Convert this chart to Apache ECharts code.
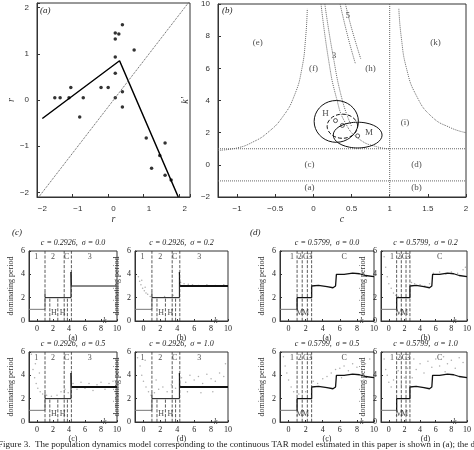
<!DOCTYPE html>
<html><head><meta charset="utf-8">
<script src="https://cdn.jsdelivr.net/npm/echarts@6/dist/echarts.min.js"></script>
<style>html,body{margin:0;padding:0;background:#fff}#c{width:474px;height:450px}</style>
</head><body><div id="c"></div>
<script>
// ---- panel (a) data ----
const aPoints = [[-1.65,0.05],[-1.5,0.05],[-1.25,0.05],[-1.2,0.27],[-0.85,0.05],[-0.95,-0.37],[-0.35,0.27],[-0.15,0.27],[0.05,1.45],[0.05,1.32],[0.15,1.43],[0.25,1.63],[0.05,0.93],[0.05,0.58],[0.05,0.05],[0.25,0.18],[0.25,-0.15],[0.58,1.08],[0.92,-0.82],[1.07,-1.48],[1.3,-1.2],[1.45,-0.93],[1.45,-1.63],[1.62,-1.73]];
const aModel = [[-2,-0.4],[0.17,0.85],[1.82,-2.1]];
const aDiag = [[-2.15,-2.15],[2.15,2.15]];
const aTicks = [-2,-1,0,1,2];
// ---- panel (b) data ----
const bLeftCurve = [[-1.25,0.9],[-1.0,1.05],[-0.8,1.4],[-0.6,2.0],[-0.4,3.0],[-0.25,4.3],[-0.15,6.0],[-0.1,8.0],[-0.08,9.7]];
const bRightCurve = [[1.12,9.7],[1.15,8.0],[1.22,6.0],[1.35,4.3],[1.55,3.0],[1.8,2.3],[2.0,2.0]];
const bMid1 = [[0.1,10],[0.2,6.5],[0.3,4.2],[0.42,2.6],[0.6,1.6],[0.85,1.1],[1.0,1.0]];
const bMid2 = [[0.15,10],[0.25,7],[0.38,4.0],[0.5,2.4]];
const bMid3 = [[0.35,10],[0.45,8],[0.55,6.3]];
const bMid4 = [[0.42,10],[0.5,8.5],[0.62,6.6]];
const bEllipses = [{cx:0.3,cy:2.7,rx:0.29,ry:1.3,type:'solid'},{cx:0.58,cy:1.85,rx:0.32,ry:0.8,type:'solid'},{cx:0.38,cy:2.4,rx:0.2,ry:0.75,type:'dashed'}];
const bCircles = [[0.29,2.75],[0.38,2.45],[0.58,1.8]];
const bLabels = [['(e)',-0.73,7.6],['(k)',1.6,7.6],['(f)',0.0,6.0],['(h)',0.75,6.0],['3',0.27,6.8],['5',0.45,9.3],['(i)',1.2,2.6],['(c)',-0.05,0.0],['(d)',1.35,0.0],['(a)',-0.05,-1.4],['(b)',1.35,-1.4],['H',0.16,3.2],['M',0.73,2.0]];
// ---- bottom panels data ----
const kTicks = [0,2,4,6,8,10];
const cTitles = ['c = 0.2926,  σ = 0.0','c = 0.2926,  σ = 0.2','c = 0.2926,  σ = 0.5','c = 0.2926,  σ = 1.0'];
const dTitles = ['c = 0.5799,  σ = 0.0','c = 0.5799,  σ = 0.2','c = 0.5799,  σ = 0.5','c = 0.5799,  σ = 1.0'];
const subLabels = ['(a)','(b)','(c)','(d)'];
const cStepGray = [[-1,1],[1,1],[1,2.5]];
const cStepBlack = [[1,2],[4.25,2],[4.25,4.2],[4.3,3],[10,3]];
const cStepLate = [[4.3,3],[10,3]];
const dStepGray = [[-1,1],[1,1]];
const dStepBlack = [[1,1],[1,2],[2.7,2],[2.7,3],[3.5,3.05],[4.5,2.95],[5.2,2.85],[5.5,3.0],[5.6,4],[6.5,4.0],[7.5,4.1],[8.3,4.05],[9,3.9],[10,3.8]];
const cVlinesFull = [1,3.4,4.3];
const cVlinesShort = [1.6,2.6,3.8];
const dVlinesFull = [1,1.6,2.2,2.7];
const cTopLabels = [['1',-0.1],['2',2.0],['C',3.7],['3',6.6]];
const dTopLabels = [['1',0.4],['2',1.3],['C',2.0],['3',2.5],['C',6.5]];
const cBotLabels = [['H',2.1],['H',3.2]];
const dBotLabels = [['M',1.3],['M',2.0]];
const cNoise = [
 [],
 [[-0.6,3.8],[-0.45,3.4],[-0.3,3.1],[-0.1,2.8],[0.1,2.6],[0.3,2.4],[0.5,2.3],[0.8,2.1],[-0.2,3.5],[0.2,2.9],[4.4,3.3],[4.8,3.2],[5.3,3.15],[5.8,3.1],[6.5,3.05],[7.5,3.1],[8.5,3.05],[9.5,3.1],[2.5,2.1],[3.5,2.2]],
 [[-0.7,5.8],[-0.5,4.5],[-0.3,3.8],[-0.1,3.3],[0.1,2.9],[0.4,2.6],[0.7,2.4],[1.2,2.3],[1.8,2.2],[2.5,2.3],[3.0,2.6],[3.5,2.8],[3.9,2.5],[4.5,3.3],[5.0,2.8],[5.5,3.4],[6.0,2.9],[6.5,3.3],[7.0,2.7],[7.5,3.2],[8.0,3.4],[8.5,2.8],[9.0,3.3],[9.5,3.5],[0.3,4.2],[-0.2,5.0]],
 [[-0.7,5.5],[-0.4,4.8],[-0.2,4.0],[0.0,3.5],[0.3,3.0],[0.6,2.6],[0.9,2.3],[1.3,2.5],[1.8,2.8],[2.3,3.0],[2.8,2.6],[3.3,3.2],[3.8,2.9],[4.5,3.8],[5.0,3.4],[5.5,4.0],[6.0,3.6],[6.5,3.9],[7.0,3.3],[7.5,4.1],[8.0,3.7],[8.5,3.5],[9.0,4.2],[9.5,3.9],[5.2,2.6],[6.8,2.5],[8.2,2.6],[0.2,5.3],[1.5,3.6],[9.7,5.0]]
];
const dNoise = [
 [],
 [[-0.6,5.5],[-0.4,4.6],[-0.2,3.8],[0.0,3.2],[0.3,2.8],[0.6,2.4],[0.9,2.2],[1.2,2.1],[2.9,3.3],[3.3,3.2],[4.0,3.1],[4.6,3.0],[5.2,3.2],[5.7,4.1],[6.5,4.2],[7.3,4.0],[8.0,4.2],[8.8,4.1],[9.5,4.4],[9.8,4.6]],
 [[-0.6,5.6],[-0.4,4.8],[-0.2,4.2],[0.0,3.6],[0.3,3.0],[0.6,2.6],[1.2,2.4],[2.0,2.6],[2.9,3.5],[3.4,3.3],[4.0,3.7],[4.5,3.9],[5.0,4.2],[5.5,4.5],[6.0,4.6],[6.5,4.8],[7.0,4.4],[7.5,5.0],[8.0,4.7],[8.5,5.2],[9.0,5.0],[9.5,5.4],[6.2,3.8],[8.8,3.6]],
 [[-0.6,5.4],[-0.4,4.5],[-0.2,4.0],[0.0,3.4],[0.3,3.0],[0.6,3.6],[1.2,4.4],[1.6,3.2],[2.0,3.8],[2.4,4.6],[3.0,3.8],[3.5,4.5],[4.0,5.0],[4.5,4.2],[5.0,5.2],[5.5,4.7],[6.0,5.4],[6.5,4.8],[7.0,5.6],[7.5,5.0],[8.0,5.3],[8.5,4.6],[9.0,5.5],[9.5,5.1],[3.2,5.4],[1.0,2.6],[7.2,4.3]]
];
const caption = 'Figure 3.  The population dynamics model corresponding to the continuous TAR model estimated in this paper is shown in (a); the dots';

const serif = 'Liberation Serif';
const chart = echarts.init(document.getElementById('c'));
const grids = [], xAxes = [], yAxes = [], series = [], texts = [];
const box = {show:true,borderColor:'#333',borderWidth:1,backgroundColor:'transparent'};
function txt(x,y,s,opt){texts.push(Object.assign({type:'text',x:x,y:y,style:Object.assign({text:s,font:'10px '+serif,fill:'#222'},opt||{})}));}

// panel (a)
grids.push(Object.assign({left:37,top:3,width:153,height:194},box));
xAxes.push({gridIndex:0,min:-2.15,max:2.15,interval:1,type:'value',splitLine:{show:false},axisLine:{onZero:false,lineStyle:{color:'#333'}},axisTick:{inside:true,length:3},axisLabel:{fontSize:8,color:'#333',customValues:aTicks,formatter:v=>String(v).replace('-','−')},name:'r',nameLocation:'middle',nameGap:15,nameTextStyle:{fontFamily:serif,fontStyle:'italic',fontSize:10}});
yAxes.push({gridIndex:0,min:-2.1,max:2.1,type:'value',splitLine:{show:false},axisLine:{onZero:false,lineStyle:{color:'#333'}},axisTick:{inside:true,length:3},axisLabel:{fontSize:8,color:'#333',customValues:aTicks,formatter:v=>String(v).replace('-','−')},name:'r',nameLocation:'middle',nameGap:20,nameTextStyle:{fontFamily:serif,fontStyle:'italic',fontSize:10}});
series.push({type:'scatter',xAxisIndex:0,yAxisIndex:0,data:aPoints,symbolSize:3.5,itemStyle:{color:'#000'}});
series.push({type:'line',xAxisIndex:0,yAxisIndex:0,data:aModel,symbol:'none',lineStyle:{color:'#000',width:1.5}});
series.push({type:'line',xAxisIndex:0,yAxisIndex:0,data:aDiag,symbol:'none',lineStyle:{color:'#555',width:1,type:'dotted'}});
txt(40,6,'(a)',{font:'italic 9px '+serif});

// panel (b)
grids.push(Object.assign({left:218,top:3,width:248,height:194},box));
xAxes.push({gridIndex:1,min:-1.25,max:2,type:'value',splitLine:{show:false},axisLine:{onZero:false,lineStyle:{color:'#333'}},axisTick:{inside:true,length:3},axisLabel:{fontSize:8,color:'#333',customValues:[-1,-0.5,0,0.5,1,1.5,2],formatter:v=>String(v).replace('-','−')},name:'c',nameLocation:'middle',nameGap:15,nameTextStyle:{fontFamily:serif,fontStyle:'italic',fontSize:10}});
yAxes.push({gridIndex:1,min:-2,max:10,interval:2,type:'value',splitLine:{show:false},axisLine:{onZero:false,lineStyle:{color:'#333'}},axisTick:{inside:true,length:3},axisLabel:{fontSize:8,color:'#333',formatter:v=>String(v).replace('-','−')},name:"k'",nameLocation:'middle',nameGap:16,nameTextStyle:{fontFamily:serif,fontStyle:'italic',fontSize:10}});
const dotted = {color:'#666',width:1,type:'dotted'};
[bLeftCurve,bRightCurve,bMid1,bMid2,bMid3,bMid4].forEach(d=>series.push({type:'line',xAxisIndex:1,yAxisIndex:1,data:d,symbol:'none',smooth:true,lineStyle:dotted}));
series.push({type:'line',xAxisIndex:1,yAxisIndex:1,data:[[-1.25,1],[2,1]],symbol:'none',lineStyle:dotted});
series.push({type:'line',xAxisIndex:1,yAxisIndex:1,data:[[-1.25,-1],[2,-1]],symbol:'none',lineStyle:dotted});
series.push({type:'line',xAxisIndex:1,yAxisIndex:1,data:[[1,-2],[1,10]],symbol:'none',lineStyle:dotted});
bEllipses.forEach(e=>{const pts=[];for(let i=0;i<=72;i++){const t=i/72*2*Math.PI;pts.push([e.cx+e.rx*Math.cos(t),e.cy+e.ry*Math.sin(t)]);}
 series.push({type:'line',xAxisIndex:1,yAxisIndex:1,data:pts,symbol:'none',lineStyle:{color:'#111',width:1,type:e.type}});});
series.push({type:'scatter',xAxisIndex:1,yAxisIndex:1,data:bCircles,symbol:'circle',symbolSize:4,itemStyle:{color:'#fff',borderColor:'#000',borderWidth:0.8}});
series.push({type:'scatter',xAxisIndex:1,yAxisIndex:1,data:bLabels.map(l=>[l[1],l[2],l[0]]),symbolSize:0,label:{show:true,position:'inside',formatter:p=>p.data[2],fontFamily:serif,fontSize:9,color:'#222'}});
txt(222,6,'(b)',{font:'italic 9px '+serif});

// bottom panels
const cols=[[29,88],[135,93],[280,94],[381,89]], rows=[251,352];
function panel(gi,col,row,title,sub,isC,idx){
 const [l,w]=cols[col]; const t=rows[row];
 grids.push(Object.assign({left:l,top:t,width:w,height:70},box));
 xAxes.push({gridIndex:gi,min:-1,max:10,type:'value',splitLine:{show:false},axisLine:{onZero:false,lineStyle:{color:'#333'}},axisTick:{inside:true,length:2,customValues:kTicks},axisLabel:{fontSize:8,fontFamily:serif,color:'#222',customValues:kTicks,margin:4},name:'k',nameLocation:'end',nameGap:-14,nameTextStyle:{fontFamily:serif,fontStyle:'italic',fontSize:8,padding:[16,0,0,0]}});
 yAxes.push({gridIndex:gi,min:0,max:6,interval:2,type:'value',splitLine:{show:false},axisLine:{onZero:false,lineStyle:{color:'#333'}},axisTick:{inside:true,length:2},axisLabel:{fontSize:8,fontFamily:serif,color:'#222',margin:4},name:'dominating period',nameLocation:'middle',nameGap:14,nameTextStyle:{fontFamily:serif,fontSize:8}});
 const noise = isC?cNoise[idx]:dNoise[idx];
 if(noise.length) series.push({type:'scatter',xAxisIndex:gi,yAxisIndex:gi,data:noise,symbolSize:1.5,itemStyle:{color:'#999'}});
 if(isC){
  series.push({type:'line',xAxisIndex:gi,yAxisIndex:gi,data:cStepGray,symbol:'none',lineStyle:{color:'#777',width:1}});
  series.push({type:'line',xAxisIndex:gi,yAxisIndex:gi,data:cStepBlack,symbol:'none',lineStyle:{color:'#111',width:1}});
  series.push({type:'line',xAxisIndex:gi,yAxisIndex:gi,data:cStepLate,symbol:'none',lineStyle:{color:idx===0?'#888':'#111',width:idx===0?1:1.8}});
  cVlinesFull.forEach(v=>series.push({type:'line',xAxisIndex:gi,yAxisIndex:gi,data:[[v,0],[v,6]],symbol:'none',lineStyle:{color:'#333',width:0.8,type:'dashed'}}));
  cVlinesShort.forEach(v=>series.push({type:'line',xAxisIndex:gi,yAxisIndex:gi,data:[[v,0],[v,2]],symbol:'none',lineStyle:{color:'#333',width:0.8,type:'dashed'}}));
 } else {
  series.push({type:'line',xAxisIndex:gi,yAxisIndex:gi,data:dStepGray,symbol:'none',lineStyle:{color:'#777',width:1}});
  series.push({type:'line',xAxisIndex:gi,yAxisIndex:gi,data:dStepBlack,symbol:'none',lineStyle:{color:'#111',width:1.3}});
  dVlinesFull.forEach(v=>series.push({type:'line',xAxisIndex:gi,yAxisIndex:gi,data:[[v,0],[v,6]],symbol:'none',lineStyle:{color:'#333',width:0.8,type:'dashed'}}));
 }
 const tl = isC?cTopLabels:dTopLabels, bl = isC?cBotLabels:dBotLabels;
 series.push({type:'scatter',xAxisIndex:gi,yAxisIndex:gi,data:tl.map(a=>[a[1],5.5,a[0]]).concat(bl.map(a=>[a[1],0.7,a[0]])),symbolSize:0,label:{show:true,position:'inside',formatter:p=>p.data[2],fontFamily:serif,fontSize:8,color:'#222'}});
 txt(l+w/2,t-12,title,{font:'italic 8px '+serif,textAlign:'center'});
 txt(l+w/2,t+83,sub,{font:'8px '+serif,textAlign:'center'});
}
let gi=2;
for(let r=0;r<2;r++)for(let c=0;c<2;c++){panel(gi++,c,r,cTitles[r*2+c],subLabels[r*2+c],true,r*2+c);}
for(let r=0;r<2;r++)for(let c=0;c<2;c++){panel(gi++,c+2,r,dTitles[r*2+c],subLabels[r*2+c],false,r*2+c);}
txt(12,228,'(c)',{font:'italic 9px '+serif});
txt(250,228,'(d)',{font:'italic 9px '+serif});
txt(-2,440,caption,{font:'9px '+serif});

chart.setOption({animation:false,grid:grids,xAxis:xAxes,yAxis:yAxes,series:series,graphic:texts});
</script></body></html>
